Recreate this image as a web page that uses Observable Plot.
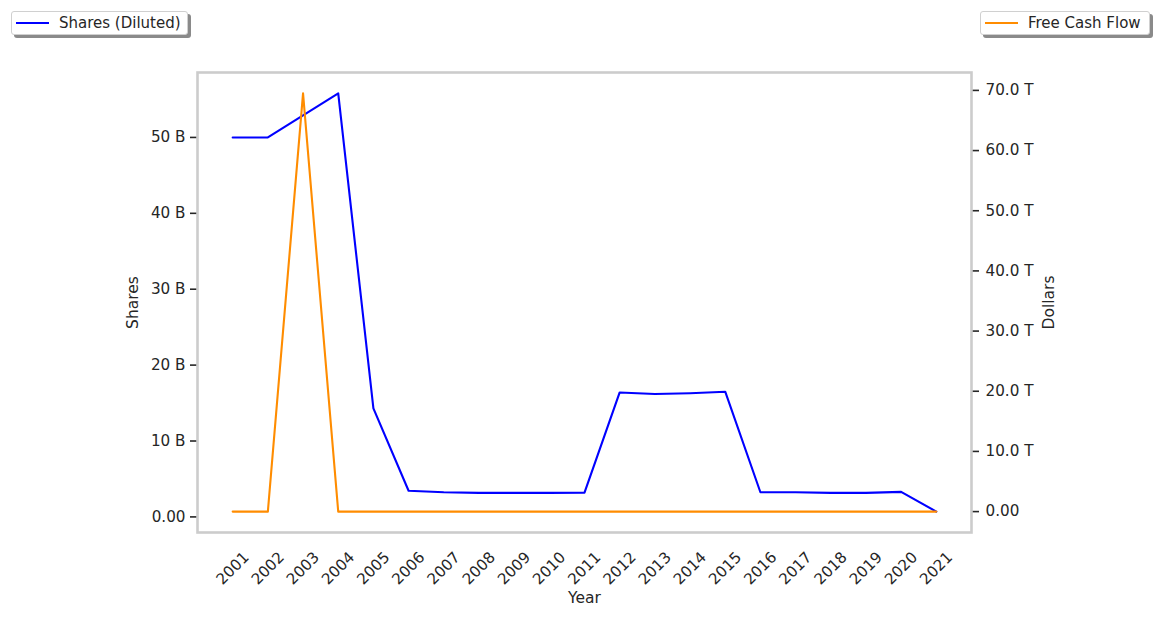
<!DOCTYPE html>
<html>
<head>
<meta charset="utf-8">
<script src="https://cdn.jsdelivr.net/npm/d3@7"></script>
<script src="https://cdn.jsdelivr.net/npm/@observablehq/plot@0.6"></script>
<style>
  html, body { margin: 0; padding: 0; background: #fff; }
  #wrap { position: relative; width: 1159px; height: 618px; font-family: "DejaVu Sans", sans-serif; color: #262626; }
  .legend { position: absolute; top: 11px; height: 24px; background: #fff; border: 1px solid #d0d0d0; border-radius: 3px;
            box-shadow: 3px 3px 0 #8a8a8a; box-sizing: border-box; font-size: 15px; line-height: 22px; white-space: nowrap; }
  .legend .swatch { position: absolute; left: 4px; top: 10px; width: 33px; height: 2px; }
  .legend .lab { position: absolute; left: 47px; top: 0; }
</style>
</head>
<body>
<div id="wrap">
  <div id="chart"></div>
  <div class="legend" style="left:11px; width:177px;"><div class="swatch" style="background:#0000ff"></div><div class="lab">Shares (Diluted)</div></div>
  <div class="legend" style="left:980px; width:170px;"><div class="swatch" style="background:#ff8c00"></div><div class="lab">Free Cash Flow</div></div>
</div>
<script>
const years = [2001, 2002, 2003, 2004, 2005, 2006, 2007, 2008, 2009, 2010, 2011,
               2012, 2013, 2014, 2015, 2016, 2017, 2018, 2019, 2020, 2021];
// Shares (Diluted), billions
const sharesB = [50.0, 50.0, 52.9, 55.8, 14.3, 3.45, 3.25, 3.17, 3.17, 3.17, 3.2,
                 16.4, 16.2, 16.3, 16.5, 3.25, 3.25, 3.17, 3.17, 3.3, 0.7];
// Free Cash Flow, trillions of dollars
const fcfT = [0, 0, 69.5, 0, 0, 0, 0, 0, 0, 0, 0,
              0, 0, 0, 0, 0, 0, 0, 0, 0, 0];
const sharesTicks = [0, 10, 20, 30, 40, 50];
const sharesTickLabels = ["0.00", "10 B", "20 B", "30 B", "40 B", "50 B"];
const dollarTicks = [0, 10, 20, 30, 40, 50, 60, 70];
const dollarTickLabels = ["0.00", "10.0 T", "20.0 T", "30.0 T", "40.0 T", "50.0 T", "60.0 T", "70.0 T"];

const rows = years.map((y, i) => ({year: y, shares: sharesB[i], fcf: fcfT[i]}));

function padded(vals) {
  const lo = d3.min(vals), hi = d3.max(vals), p = 0.05 * (hi - lo);
  return [lo - p, hi + p];
}
const sDom = padded(sharesB);
const dDom = padded(fcfT);
const toS = d => sDom[0] + (d - dDom[0]) * (sDom[1] - sDom[0]) / (dDom[1] - dDom[0]);
const xPad = 0.05 * (d3.max(years) - d3.min(years));

const sLabel = new Map(sharesTicks.map((t, i) => [t, sharesTickLabels[i]]));
const dLabel = new Map(dollarTicks.map((t, i) => [toS(t), dollarTickLabels[i]]));

const ink = "#262626";
const fs = 15.2;
const chart = Plot.plot({
  width: 1159,
  height: 618,
  marginTop: 72,
  marginBottom: 86,
  marginLeft: 197,
  marginRight: 188,
  style: {fontFamily: "DejaVu Sans, sans-serif", fontSize: fs + "px", color: ink, background: "#fff"},
  x: {domain: [d3.min(years) - xPad, d3.max(years) + xPad], axis: null},
  y: {domain: sDom, axis: null},
  marks: [
    Plot.axisY(sharesTicks, {anchor: "left", label: null, tickSize: 7, tickPadding: 5,
      tickFormat: d => sLabel.get(d), stroke: ink, strokeWidth: 1.6, fill: ink, fontSize: fs}),
    Plot.axisY(dollarTicks.map(toS), {anchor: "right", label: null, tickSize: 7, tickPadding: 7,
      tickFormat: d => dLabel.get(d), stroke: ink, strokeWidth: 1.6, fill: ink, fontSize: fs}),
    Plot.text(years, {x: d => d, text: d => String(d), frameAnchor: "bottom", dy: 36, rotate: -45,
      textAnchor: "middle", lineAnchor: "middle", fill: ink, fontSize: fs}),
    Plot.text(["Year"], {frameAnchor: "bottom", dy: 66, textAnchor: "middle", lineAnchor: "middle", fill: ink, fontSize: 15.5}),
    Plot.text(["Shares"], {frameAnchor: "left", dx: -64, rotate: -90, textAnchor: "middle", lineAnchor: "middle", fill: ink, fontSize: 15.5}),
    Plot.text(["Dollars"], {frameAnchor: "right", dx: 78, rotate: -90, textAnchor: "middle", lineAnchor: "middle", fill: ink, fontSize: 15.5}),
    Plot.line(rows, {x: "year", y: "shares", stroke: "#0000ff", strokeWidth: 2.1}),
    Plot.line(rows, {x: "year", y: d => toS(d.fcf), stroke: "#ff8c00", strokeWidth: 2.1}),
    Plot.frame({stroke: "#cccccc", strokeWidth: 2.6})
  ]
});
document.getElementById("chart").appendChild(chart);
</script>
</body>
</html>
